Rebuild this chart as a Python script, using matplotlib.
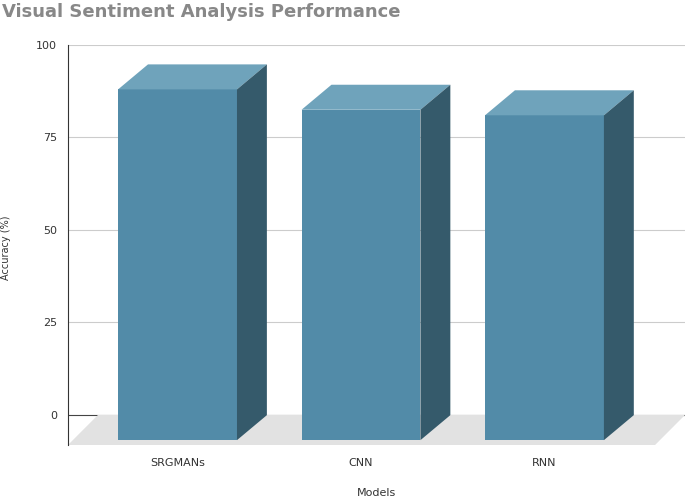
import matplotlib
matplotlib.use("Agg")
import matplotlib.pyplot as plt
from matplotlib.patches import Polygon

models = ["SRGMANs", "CNN", "RNN"]
accuracy = [88, 82.5, 81]
yticks = [0, 25, 50, 75, 100]

W, H = 685, 498
fig = plt.figure(figsize=(W/100, H/100), dpi=100)
ax = fig.add_axes([68/W, (498-450)/H, (685-68)/W, (450-45)/H])
ax.set_xlim(-0.597, 2.766)
ax.set_ylim(-9.46, 100)

hw, dx, dy, base = 0.324, 0.163, 6.76, -6.8
front, top, side = "#528ba8", "#6fa3bb", "#355a6b"

# floor
ax.add_patch(Polygon([(-0.597, -8.1), (2.766 - dx, -8.1), (2.766, 0), (-0.597 + dx, 0)],
                     closed=True, fc="#e2e2e2", ec="none", zorder=1))
for t in yticks:
    ax.axhline(t, color="#cccccc" if t else "#444444", lw=0.8, zorder=0.5)

for i, v in enumerate(accuracy):
    x0, x1 = i - hw, i + hw
    ax.add_patch(Polygon([(x0, base), (x1, base), (x1, v), (x0, v)], fc=front, ec="none", zorder=3))
    ax.add_patch(Polygon([(x0, v), (x1, v), (x1 + dx, v + dy), (x0 + dx, v + dy)], fc=top, ec="none", zorder=3))
    ax.add_patch(Polygon([(x1, base), (x1 + dx, base + dy), (x1 + dx, v + dy), (x1, v)], fc=side, ec="none", zorder=3))

for s in ["top", "right", "bottom"]:
    ax.spines[s].set_visible(False)
ax.spines["left"].set_color("#333333")
ax.spines["left"].set_bounds(-8.1, 100)
ax.set_yticks(yticks)
ax.set_yticklabels([str(t) for t in yticks], fontsize=8, color="#333333")
ax.tick_params(axis="y", length=0, pad=8)
ax.set_xticks(range(len(models)))
ax.set_xticklabels(models, fontsize=8, color="#333333")
ax.tick_params(axis="x", length=0, pad=6)
ax.set_xlabel("Models", fontsize=8, color="#333333", labelpad=14)
ax.set_ylabel("Accuracy (%)", fontsize=7, color="#333333", labelpad=18)
fig.text(2/W, 1 - 12/H, "Visual Sentiment Analysis Performance", fontsize=13,
         color="#888888", fontweight="bold", va="center", ha="left")
fig.savefig("out.png", dpi=100)
